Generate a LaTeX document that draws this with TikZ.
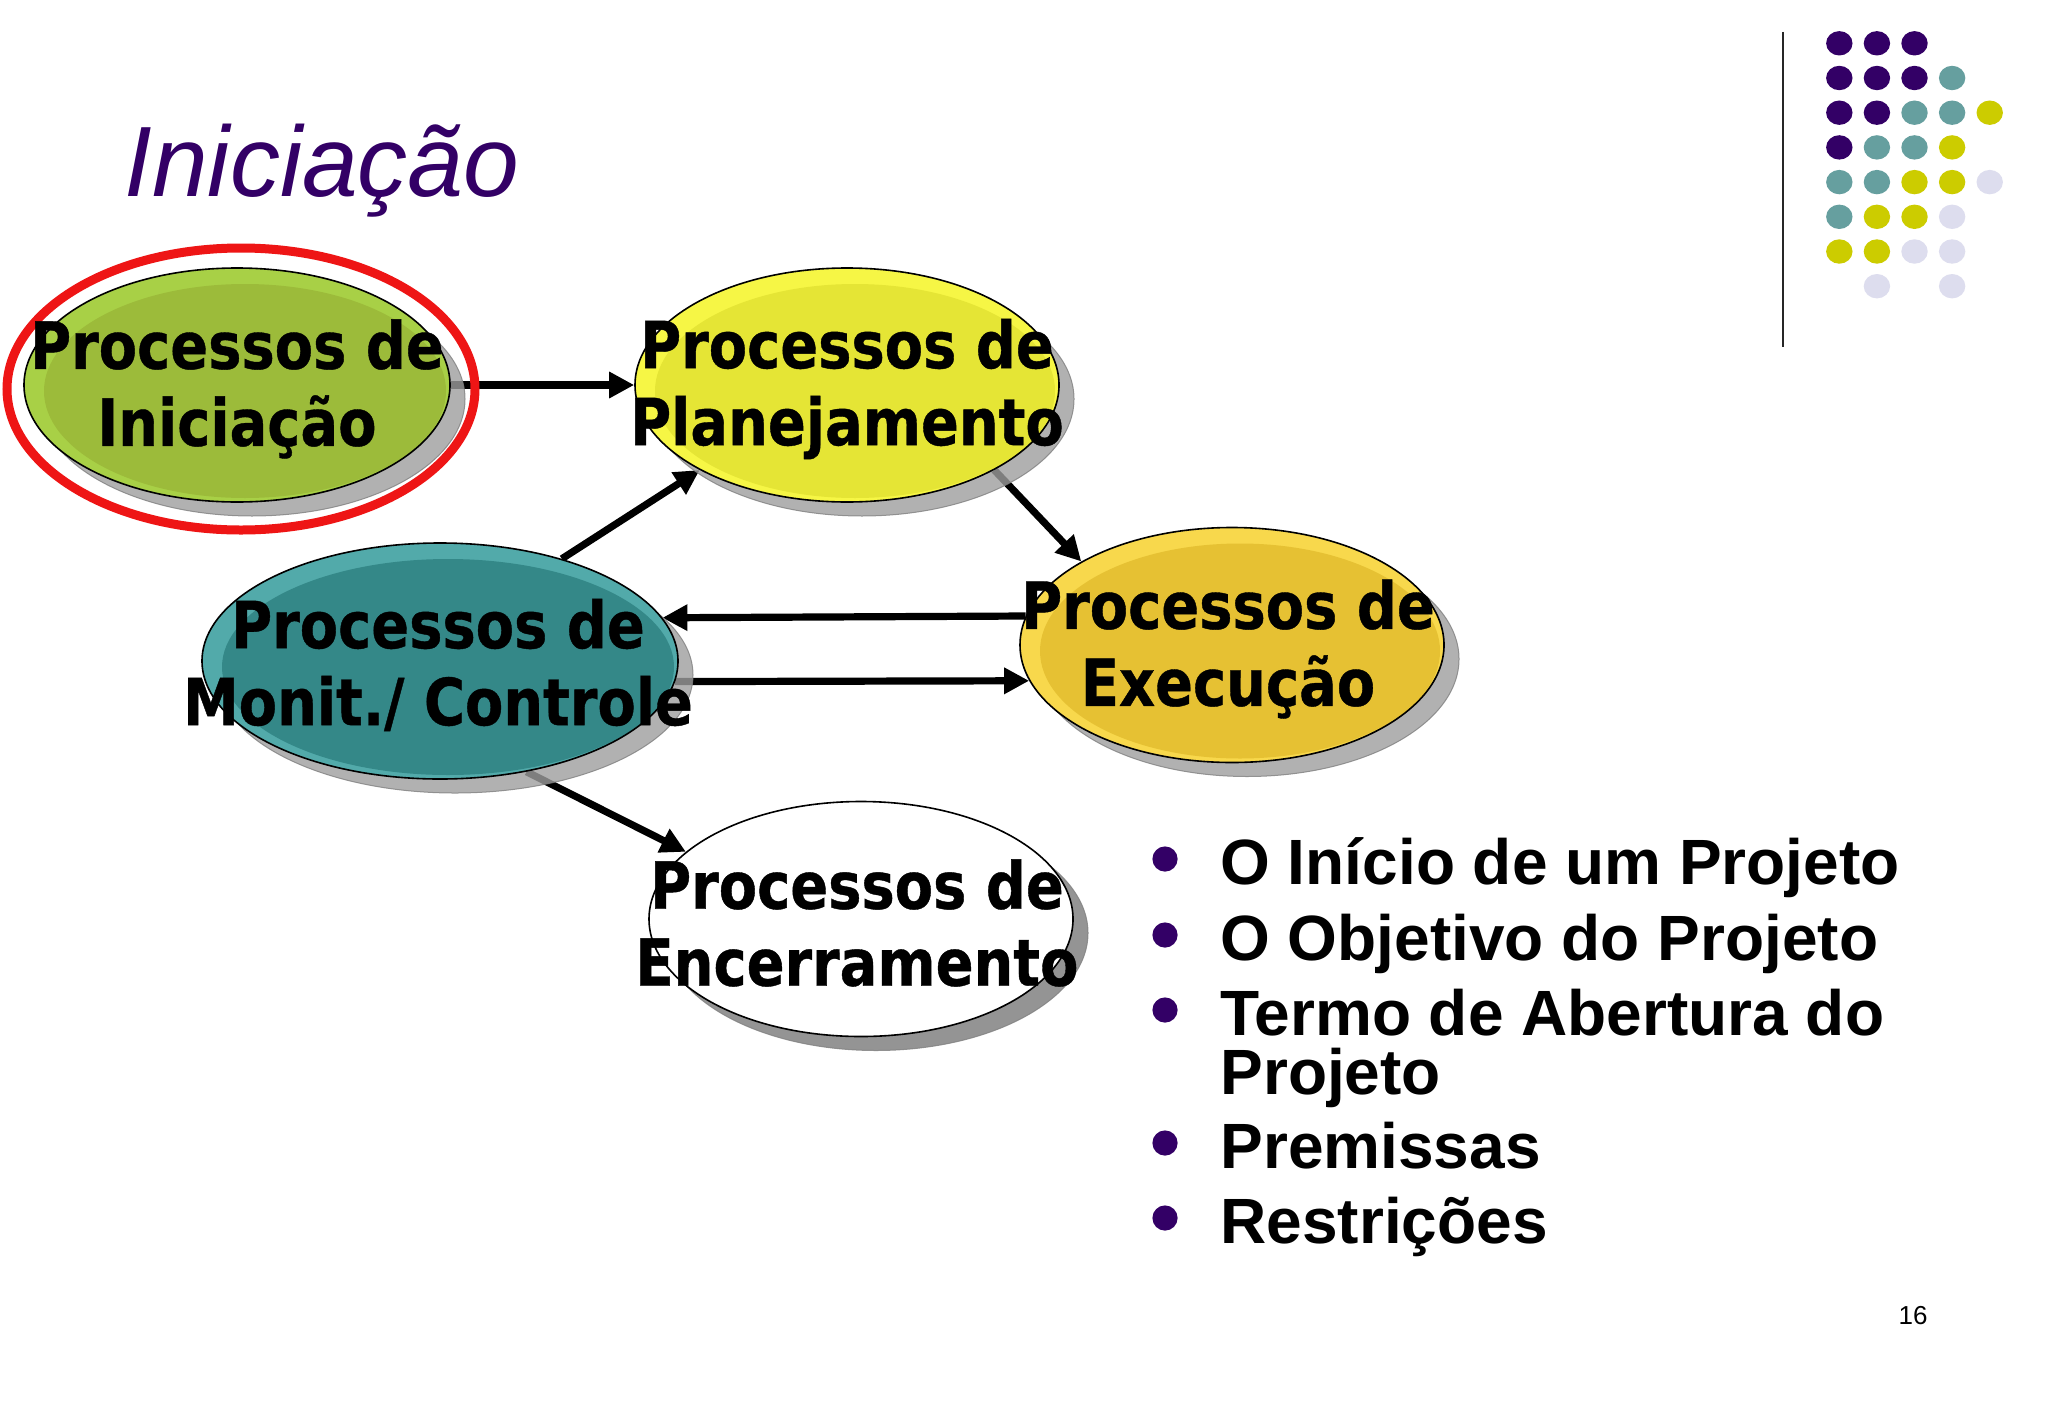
\documentclass[tikz,border=0pt]{standalone}
\usepackage{fontspec}
\setmainfont{Liberation Sans}
\newfontfamily\ellfont[FakeStretch=0.86,FakeBold=0.6]{DejaVu Sans Bold}
\usetikzlibrary{arrows.meta,shapes.geometric,calc}
\pgfdeclarelayer{bg}
\pgfdeclarelayer{arrowlayer}
\pgfdeclarelayer{shadowlayer}
\pgfsetlayers{bg,arrowlayer,shadowlayer,main}
\definecolor{purp}{HTML}{330066}
\definecolor{dP}{HTML}{330066}
\definecolor{dT}{HTML}{669F9F}
\definecolor{dY}{HTML}{CCCC00}
\definecolor{dL}{HTML}{DDDDEE}
\definecolor{grA}{HTML}{A8D046}
\definecolor{grB}{HTML}{9CBB3A}
\definecolor{yeA}{HTML}{F6F645}
\definecolor{yeB}{HTML}{E5E535}
\definecolor{teA}{HTML}{52AAAA}
\definecolor{teB}{HTML}{348888}
\definecolor{goA}{HTML}{F8D84C}
\definecolor{goB}{HTML}{E6C133}
\definecolor{hlred}{HTML}{EE1515}
\tikzset{
  proc/.style n args={4}{ellipse, draw=black, line width=0.8pt, inner sep=0pt,
    minimum width=#1, minimum height=#2, fill=#3,
    path picture={\path[fill=#4] let \p1=(path picture bounding box.north east),
      \p2=(path picture bounding box.south west) in
      ([xshift=4pt,yshift=-3pt]path picture bounding box.center)
      ellipse [x radius={abs(\x1-\x2)/2-6pt}, y radius={abs(\y1-\y2)/2-5pt}];}},
  lbl/.style={font=\ellfont\fontsize{32.5}{38.5}\selectfont, align=center, inner sep=0pt, text=black},
  arr/.style={line width=3.6pt, draw=black, -{Triangle[length=12.5pt,width=12.5pt]}},
  shad/.style={fill=black!38, draw=black!50, line width=0.5pt, opacity=0.8},
  item/.style={font=\bfseries\fontsize{32}{38}\selectfont, anchor=base west, inner sep=0pt, text=black},
}
\begin{document}
\begin{tikzpicture}[x=0.5pt,y=-0.5pt]
\begin{pgfonlayer}{bg}
\fill[white] (0,0) rectangle (2048,1418);
\end{pgfonlayer}
\useasboundingbox (0,0) rectangle (2048,1418);

% title
\node[anchor=base west, inner sep=0pt, text=purp, font=\itshape\fontsize{50}{60}\selectfont] (title) at (124,196) {Iniciação};

% decoration: vertical rule and dot grid
\draw[line width=1pt, black!85] (1783,32) -- (1783,347);
\foreach \r/\c/\k in {0/0/dP,0/1/dP,0/2/dP,
  1/0/dP,1/1/dP,1/2/dP,1/3/dT,
  2/0/dP,2/1/dP,2/2/dT,2/3/dT,2/4/dY,
  3/0/dP,3/1/dT,3/2/dT,3/3/dY,
  4/0/dT,4/1/dT,4/2/dY,4/3/dY,4/4/dL,
  5/0/dT,5/1/dY,5/2/dY,5/3/dL,
  6/0/dY,6/1/dY,6/2/dL,6/3/dL,
  7/1/dL,7/3/dL}
  {\fill[\k] ({1839.3+37.6*\c},{43.3+34.7*\r}) ellipse [x radius=6.6pt, y radius=6.1pt];}

% process ellipses
\node[proc={213pt}{117pt}{grA}{grB}] (ini) at (237,385) {};
\node[proc={212pt}{117pt}{yeA}{yeB}] (plan) at (847,385) {};
\node[proc={238pt}{118pt}{teA}{teB}] (mon) at (440,661) {};
\node[proc={212pt}{117.5pt}{goA}{goB}] (exe) at (1232,645) {};
\node[proc={212pt}{117.5pt}{white}{white}] (enc) at (861,919) {};

% shadows
\begin{pgfonlayer}{shadowlayer}
\fill[shad] ([shift={(7.5pt,-7pt)}]ini.center) ellipse [x radius=106.5pt, y radius=58.5pt];
\fill[shad] ([shift={(7.5pt,-7pt)}]plan.center) ellipse [x radius=106pt, y radius=58.5pt];
\fill[shad] ([shift={(7.5pt,-7pt)}]mon.center) ellipse [x radius=119pt, y radius=59pt];
\fill[shad] ([shift={(7.5pt,-7pt)}]exe.center) ellipse [x radius=106pt, y radius=58.75pt];
\fill[shad, fill=black!52] ([shift={(7.5pt,-7pt)}]enc.center) ellipse [x radius=106pt, y radius=58.75pt];
\end{pgfonlayer}

% highlight ring
\node[ellipse, draw=hlred, line width=4.5pt, inner sep=0pt, minimum width=234pt, minimum height=141pt] (hl) at (241,389) {};

% labels
\node[lbl] (inilbl) at ([yshift=-2pt]ini.center) {Processos de\\Iniciação};
\node[lbl] (planlbl) at ([yshift=-2pt]plan.center) {Processos de\\Planejamento};
\node[lbl] (monlbl) at ([xshift=-1pt,yshift=-2pt]mon.center) {Processos de\\Monit./ Controle};
\node[lbl] (exelbl) at ([xshift=-2pt,yshift=-2pt]exe.center) {Processos de\\Execução};
\node[lbl] (enclbl) at ([xshift=-2pt,yshift=-2pt]enc.center) {Processos de\\Encerramento};

% connectors
\begin{pgfonlayer}{arrowlayer}
\draw[arr] (ini.east) -- (plan.west);
\draw[arr] (mon.40) -- (plan.210);
\draw[arr] (plan.-30) -- (exe.151);
\draw[arr] (exe.172.5) -- (mon.11);
\draw[arr] (mon.-5) -- (exe.190.4);
\draw[arr] (mon.-52) -- (enc.159);
\end{pgfonlayer}

% bullet list
\node[item] (b1) at (1220,884) {O Início de um Projeto};
\node[item] (b2) at (1220,960) {O Objetivo do Projeto};
\node[item] (b3) at (1220,1035) {Termo de Abertura do};
\node[item] (b3b) at (1220,1094) {Projeto};
\node[item] (b4) at (1220,1168) {Premissas};
\node[item] (b5) at (1220,1243) {Restrições};
\foreach \yy in {884,960,1035,1168,1243}
  {\fill[purp] (1165,\yy-25) circle [radius=6.3pt];}

% page number
\node[inner sep=0pt, font=\fontsize{13}{15}\selectfont] (pg) at (1913,1316) {16};
\end{tikzpicture}
\end{document}
